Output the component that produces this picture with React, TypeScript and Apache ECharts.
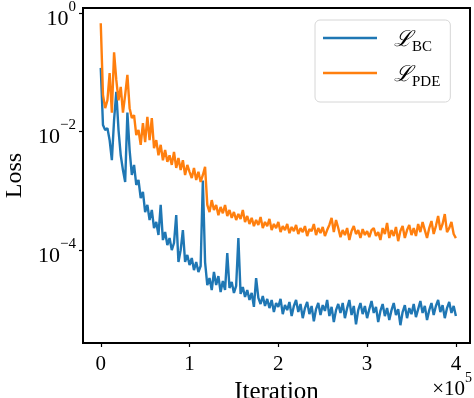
import React, { useEffect, useRef } from 'react';
import * as echarts from 'echarts';

// Iterations are logged every 2500 steps (0 .. 400000)
const ITER_STEP = 2500;

const lossBC = [
  1.2e-1, 1.3e-2, 1.07e-2, 1.15e-2, 7.2e-3, 3.3e-3, 1.58e-2, 4.7e-2, 1.07e-2, 4.0e-3,
  2.25e-3, 1.42e-3, 2.1e-2, 4.9e-3, 1.86e-3, 2.75e-3, 1.26e-3, 1.53e-3, 7.6e-4, 9.6e-4,
  4.4e-4, 5.8e-4, 3.23e-4, 4.76e-4, 2.36e-4, 2.99e-4, 1.8e-4, 5.8e-4, 1.48e-4, 2.02e-4,
  1.22e-4, 1.6e-4, 1.0e-4, 1.32e-4, 3.9e-4, 6.3e-5, 1.0e-4, 2.18e-4, 6.3e-5, 8.3e-5,
  5.6e-5, 7.35e-5, 4.6e-5, 6.3e-5, 4.27e-5, 5.4e-5, 1.5e-3, 6.3e-5, 2.57e-5, 3.38e-5,
  2.12e-5, 4.27e-5, 2.57e-5, 3.65e-5, 1.96e-5, 3.0e-5, 2.12e-5, 8.9e-5, 2.29e-5, 2.9e-5,
  1.89e-5, 2.48e-5, 1.6e-4, 1.82e-5, 2.38e-5, 1.62e-5, 2.12e-5, 1.44e-5, 1.89e-5, 1.1e-5,
  3.38e-5, 1.56e-5, 1.23e-5, 1.68e-5, 1.14e-5, 1.5e-5, 1.05e-5, 1.44e-5, 9.0e-6, 1.28e-5,
  1.1e-5, 1.5e-5, 8.3e-6, 1.18e-5, 9.7e-6, 1.33e-5, 7.7e-6, 1.14e-5, 1.44e-5, 9.0e-6,
  1.23e-5, 7.1e-6, 1.05e-5, 1.33e-5, 8.3e-6, 1.14e-5, 6.3e-6, 1.01e-5, 1.28e-5, 8.0e-6,
  1.18e-5, 9.4e-6, 1.44e-5, 7.7e-6, 1.1e-5, 6.1e-6, 9.7e-6, 1.23e-5, 8.7e-6, 1.28e-5,
  7.1e-6, 1.05e-5, 1.44e-5, 8.0e-6, 1.14e-5, 5.6e-6, 9.7e-6, 1.28e-5, 8.3e-6, 1.14e-5,
  7.1e-6, 1.01e-5, 1.38e-5, 8.7e-6, 1.1e-5, 6.1e-6, 9.4e-6, 1.23e-5, 7.7e-6, 1.05e-5,
  6.6e-6, 9.7e-6, 1.28e-5, 8.0e-6, 1.01e-5, 5.4e-6, 9.0e-6, 1.18e-5, 7.1e-6, 1.05e-5,
  8.3e-6, 1.23e-5, 7.4e-6, 1.01e-5, 1.38e-5, 8.7e-6, 1.14e-5, 6.6e-6, 9.7e-6, 1.28e-5,
  8.0e-6, 1.14e-5, 1.44e-5, 9.0e-6, 1.18e-5, 7.1e-6, 1.05e-5, 1.33e-5, 8.7e-6, 1.14e-5,
  7.7e-6,
];

const lossPDE = [
  6.8e-1, 4.2e-2, 2.5e-2, 3.4e-2, 9.8e-2, 2.1e-2, 2.2e-1, 7.5e-2, 3.4e-2, 5.7e-2,
  2.1e-2, 4.2e-2, 9.1e-2, 2.5e-2, 1.7e-2, 1.9e-2, 8.8e-3, 1.07e-2, 6.0e-3, 1.4e-2,
  6.7e-3, 1.78e-2, 7.2e-3, 1.7e-2, 5.3e-3, 7.2e-3, 4.0e-3, 6.0e-3, 3.3e-3, 4.9e-3,
  3.1e-3, 4.0e-3, 2.75e-3, 4.55e-3, 2.45e-3, 3.6e-3, 2.25e-3, 3.3e-3, 1.86e-3, 2.75e-3,
  2.1e-3, 1.65e-3, 2.45e-3, 1.53e-3, 2.1e-3, 1.42e-3, 1.86e-3, 2.55e-3, 5.8e-4, 4.4e-4,
  7.0e-4, 4.76e-4, 5.8e-4, 3.9e-4, 5.35e-4, 4.2e-4, 5.8e-4, 3.77e-4, 4.76e-4, 3.5e-4,
  4.4e-4, 3.23e-4, 4.07e-4, 3.36e-4, 4.76e-4, 2.99e-4, 3.77e-4, 2.76e-4, 3.5e-4, 2.55e-4,
  3.23e-4, 2.66e-4, 3.63e-4, 2.36e-4, 2.99e-4, 2.55e-4, 3.36e-4, 2.18e-4, 2.76e-4, 2.36e-4,
  2.99e-4, 2.02e-4, 2.55e-4, 2.18e-4, 2.76e-4, 1.94e-4, 2.46e-4, 2.1e-4, 2.66e-4, 1.87e-4,
  2.36e-4, 2.02e-4, 2.55e-4, 1.73e-4, 2.27e-4, 2.1e-4, 2.76e-4, 1.8e-4, 2.36e-4, 1.94e-4,
  2.46e-4, 1.73e-4, 2.18e-4, 2.66e-4, 3.5e-4, 2.02e-4, 3.23e-4, 2.36e-4, 1.66e-4, 2.18e-4,
  1.8e-4, 2.36e-4, 1.48e-4, 2.1e-4, 2.55e-4, 1.87e-4, 2.18e-4, 1.6e-4, 2.27e-4, 1.8e-4,
  2.1e-4, 1.66e-4, 2.18e-4, 2.36e-4, 1.73e-4, 2.02e-4, 1.48e-4, 2.36e-4, 1.87e-4, 2.87e-4,
  1.6e-4, 2.18e-4, 1.73e-4, 2.46e-4, 1.42e-4, 2.1e-4, 2.55e-4, 1.6e-4, 2.18e-4, 2.66e-4,
  1.8e-4, 2.36e-4, 1.73e-4, 2.76e-4, 2.02e-4, 2.99e-4, 2.18e-4, 1.6e-4, 2.36e-4, 3.1e-4,
  1.87e-4, 2.55e-4, 3.77e-4, 2.18e-4, 2.76e-4, 4.07e-4, 2.02e-4, 2.36e-4, 2.99e-4, 1.87e-4,
  1.6e-4,
];

const xTicks = [0, 100000, 200000, 300000, 400000];
const yTicks = [1e-4, 1e-2, 1];

const X_MIN = -20000;
const X_MAX = 415900;
const Y_MIN = 2.7e-6;
const Y_MAX = 1.23;

// plot-area layout (pixels)
const W = 474;
const H = 398;
const G_LEFT = 83;
const G_RIGHT = 4;
const G_TOP = 8;
const G_BOTTOM = 55;

const FONT = '"Liberation Serif", "DejaVu Serif", serif';

export default function App() {
  const ref = useRef<HTMLDivElement>(null);

  useEffect(() => {
    if (!ref.current) return;
    const chart = echarts.init(ref.current, null, { renderer: 'svg' });
    const toPairs = (arr: number[]) => arr.map((v, i) => [i * ITER_STEP, v]);

    chart.setOption({
      animation: false,
      title: {
        text: '{a|\u00d710}{e|5}',
        right: 2,
        bottom: 0,
        padding: 0,
        textStyle: {
          fontWeight: 'normal',
          rich: {
            a: { fontFamily: FONT, fontSize: 21, fontWeight: 'normal', color: '#000', lineHeight: 28, verticalAlign: 'bottom' },
            e: { fontFamily: FONT, fontSize: 14, fontWeight: 'normal', color: '#000', lineHeight: 14, verticalAlign: 'top' },
          },
        },
      },
      grid: {
        left: G_LEFT,
        right: G_RIGHT,
        top: G_TOP,
        bottom: G_BOTTOM,
        outerBoundsMode: 'none',
        show: true,
        borderColor: '#000',
        borderWidth: 2,
      },
      xAxis: {
        type: 'value',
        min: X_MIN,
        max: X_MAX,
        name: 'Iteration',
        nameLocation: 'middle',
        nameGap: 30,
        nameTextStyle: { fontFamily: FONT, fontSize: 25, color: '#000' },
        axisLine: { show: true, onZero: false, lineStyle: { color: '#000', width: 2 } },
        splitLine: { show: false },
        axisTick: {
          show: true,
          length: 4,
          customValues: xTicks,
          lineStyle: { color: '#000', width: 1.2 },
        },
        axisLabel: {
          customValues: xTicks,
          margin: 9,
          fontFamily: FONT,
          fontSize: 21,
          color: '#000',
          formatter: (v: number) => String(Math.round(v / 100000)),
        },
      },
      yAxis: {
        type: 'log',
        min: Y_MIN,
        max: Y_MAX,
        name: 'Loss',
        nameLocation: 'middle',
        nameGap: 58,
        nameTextStyle: { fontFamily: FONT, fontSize: 24, color: '#000' },
        axisLine: { show: true, onZero: false, lineStyle: { color: '#000', width: 2 } },
        splitLine: { show: false },
        axisTick: {
          show: true,
          length: 4,
          customValues: yTicks,
          lineStyle: { color: '#000', width: 1.2 },
        },
        axisLabel: {
          customValues: yTicks,
          margin: 7,
          formatter: (v: number) => {
            const e = Math.round(Math.log10(v));
            return `{b|10}{e|${e < 0 ? '\u2212' + -e : e}}`;
          },
          rich: {
            b: { fontFamily: FONT, fontSize: 22, color: '#000', lineHeight: 30, verticalAlign: 'bottom' },
            e: { fontFamily: FONT, fontSize: 15, color: '#000', lineHeight: 16, verticalAlign: 'top' },
          },
        },
      },
      legend: {
        show: true,
        left: 315,
        top: 20,
        orient: 'vertical',
        icon: 'rect',
        itemWidth: 54,
        itemHeight: 2.5,
        itemGap: 9,
        padding: [7, 10, 14, 8],
        backgroundColor: '#fff',
        borderColor: '#d6d6d6',
        borderWidth: 1,
        borderRadius: 5,
        formatter: (name: string) => `{l|\u2112}{s|${name.slice(1)}}`,
        textStyle: {
          padding: [0, 0, 0, 12],
          rich: {
            l: { fontFamily: '"DejaVu Serif", serif', fontStyle: 'italic', fontSize: 22, color: '#000', lineHeight: 30, verticalAlign: 'middle' },
            s: { fontFamily: FONT, fontSize: 15, color: '#000', lineHeight: 20, verticalAlign: 'bottom' },
          },
        },
      },
      series: [
        {
          name: '\u2112BC',
          type: 'line',
          data: toPairs(lossBC),
          showSymbol: false,
          lineStyle: { width: 2.4, color: '#1f77b4' },
          itemStyle: { color: '#1f77b4' },
        },
        {
          name: '\u2112PDE',
          type: 'line',
          data: toPairs(lossPDE),
          showSymbol: false,
          lineStyle: { width: 2.4, color: '#ff7f0e' },
          itemStyle: { color: '#ff7f0e' },
        },
      ],
    });

    return () => chart.dispose();
  }, []);

  return (
    <div style={{ position: 'fixed', left: 0, top: 0, width: W, height: H }}>
      <div ref={ref} style={{ position: 'absolute', left: 0, top: 0, width: W, height: H }} />
      <div
        style={{
          position: 'absolute',
          left: G_LEFT - 1,
          top: G_TOP - 1,
          width: W - G_LEFT - G_RIGHT + 2,
          height: H - G_TOP - G_BOTTOM + 2,
          border: '2px solid #000',
          boxSizing: 'border-box',
          pointerEvents: 'none',
        }}
      />
    </div>
  );
}
